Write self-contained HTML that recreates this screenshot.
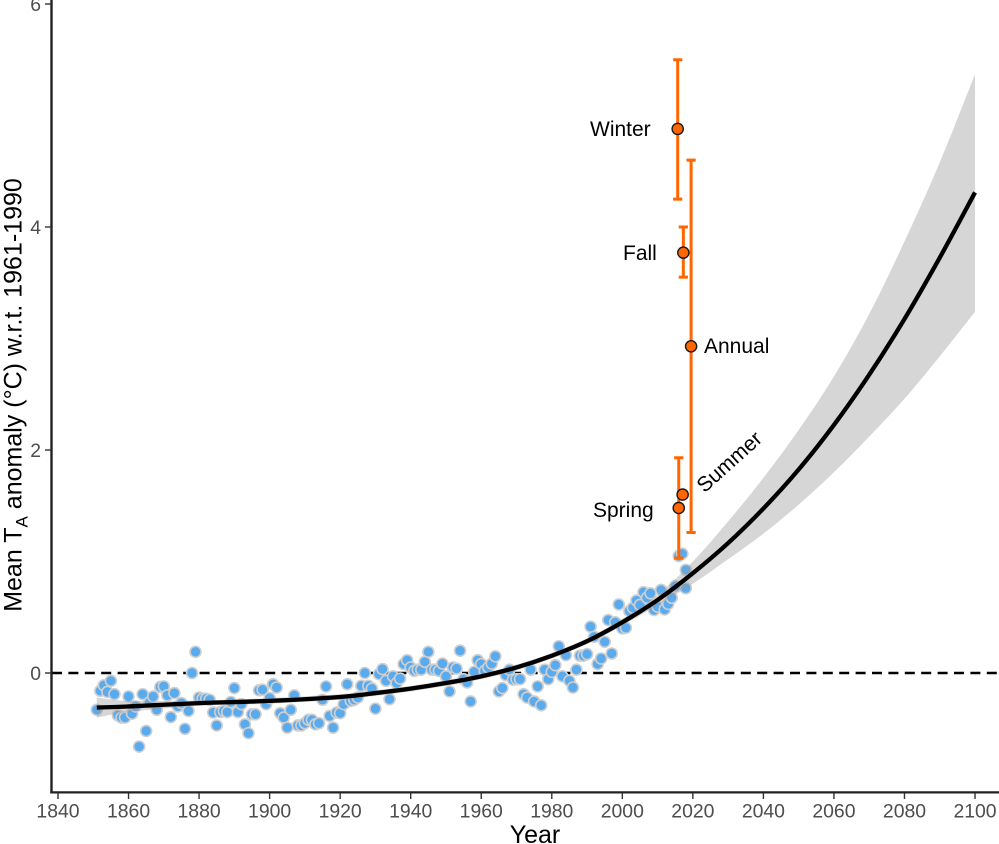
<!DOCTYPE html>
<html lang="en">
<head>
<meta charset="utf-8">
<title>Mean air temperature anomaly chart</title>
<style>
html,body{margin:0;padding:0;background:#fff;}
svg{display:block;font-family:"Liberation Sans",sans-serif;}
</style>
</head>
<body>
<svg id="chart" xmlns="http://www.w3.org/2000/svg" width="999" height="844" viewBox="0 0 999 844">
  <rect x="0" y="0" width="999" height="844" fill="#fff"/>
  <g id="plot"></g>
  <line x1="51.5" y1="0" x2="51.5" y2="793.5" stroke="#222" stroke-width="2.4"/>
  <line x1="50.3" y1="792.4" x2="999" y2="792.4" stroke="#222" stroke-width="2.2"/>
  <g id="axes"></g>
  <text x="535" y="843" text-anchor="middle" font-size="25" fill="#000">Year</text>
  <text transform="translate(21.5,395) rotate(-90)" text-anchor="middle" font-size="25" fill="#000">Mean T<tspan font-size="17" dy="6">A</tspan><tspan dy="-6"> anomaly (°C) w.r.t. 1961-1990</tspan></text>
  <text x="590" y="136" font-size="21" fill="#000">Winter</text>
  <text x="623" y="260" font-size="21" fill="#000">Fall</text>
  <text x="704" y="353" font-size="21" fill="#000">Annual</text>
  <text x="593" y="517" font-size="21" fill="#000">Spring</text>
  <text transform="translate(734,467) rotate(-42)" text-anchor="middle" font-size="21" fill="#000">Summer</text>
</svg>
<script>
const xTickLabels = [1840,1860,1880,1900,1920,1940,1960,1980,2000,2020,2040,2060,2080,2100];
const yTickLabels = [0,2,4,6];

const obsYears = [1851,1852,1853,1854,1855,1856,1857,1858,1859,1860,1861,1862,1863,1864,1865,1866,1867,1868,1869,1870,1871,1872,1873,1874,1875,1876,1877,1878,1879,1880,1881,1882,1883,1884,1885,1886,1887,1888,1889,1890,1891,1892,1893,1894,1895,1896,1897,1898,1899,1900,1901,1902,1903,1904,1905,1906,1907,1908,1909,1910,1911,1912,1913,1914,1915,1916,1917,1918,1919,1920,1921,1922,1923,1924,1925,1926,1927,1928,1929,1930,1931,1932,1933,1934,1935,1936,1937,1938,1939,1940,1941,1942,1943,1944,1945,1946,1947,1948,1949,1950,1951,1952,1953,1954,1955,1956,1957,1958,1959,1960,1961,1962,1963,1964,1965,1966,1967,1968,1969,1970,1971,1972,1973,1974,1975,1976,1977,1978,1979,1980,1981,1982,1983,1984,1985,1986,1987,1988,1989,1990,1991,1992,1993,1994,1995,1996,1997,1998,1999,2000,2001,2002,2003,2004,2005,2006,2007,2008,2009,2010,2011,2012,2013,2014,2015,2016,2017,2018,2018];
const obsAnomalies = [-0.33,-0.16,-0.11,-0.17,-0.07,-0.19,-0.38,-0.40,-0.40,-0.21,-0.365,-0.30,-0.66,-0.19,-0.52,-0.26,-0.21,-0.33,-0.125,-0.12,-0.20,-0.395,-0.18,-0.30,-0.27,-0.50,-0.34,0.0,0.19,-0.22,-0.23,-0.23,-0.24,-0.355,-0.47,-0.35,-0.34,-0.35,-0.26,-0.135,-0.35,-0.28,-0.46,-0.54,-0.37,-0.37,-0.155,-0.15,-0.28,-0.225,-0.10,-0.13,-0.36,-0.40,-0.49,-0.33,-0.20,-0.47,-0.47,-0.45,-0.42,-0.42,-0.46,-0.45,-0.24,-0.12,-0.385,-0.49,-0.355,-0.36,-0.28,-0.10,-0.25,-0.24,-0.22,-0.115,0.0,-0.115,-0.14,-0.32,-0.01,0.035,-0.07,-0.235,-0.03,-0.09,-0.05,0.08,0.115,0.05,0.02,0.03,0.03,0.10,0.19,0.03,0.03,0.02,0.085,-0.03,-0.165,0.05,0.04,0.20,-0.055,-0.085,-0.255,0.01,0.115,0.08,0.02,0.05,0.085,0.15,-0.165,-0.135,-0.02,0.03,-0.06,-0.055,-0.055,-0.19,-0.22,0.03,-0.255,-0.12,-0.29,0.03,-0.055,0.01,0.07,0.24,-0.03,0.16,-0.07,-0.13,0.03,0.155,0.155,0.17,0.415,0.325,0.08,0.13,0.28,0.475,0.175,0.455,0.615,0.40,0.405,0.555,0.585,0.65,0.61,0.725,0.675,0.715,0.565,0.595,0.745,0.57,0.62,0.675,0.78,1.05,1.07,0.925,0.76];

const curveYears = [1851,1860,1880,1900,1920,1930,1940,1950,1960,1970,1980,1990,2000,2010,2020,2030,2040,2050,2060,2070,2080,2090,2100];
const curveMean  = [-0.31,-0.30,-0.27,-0.25,-0.215,-0.18,-0.14,-0.09,-0.03,0.05,0.155,0.285,0.455,0.655,0.895,1.165,1.475,1.825,2.225,2.675,3.175,3.725,4.31];
const curveLower = [-0.40,-0.35,-0.295,-0.275,-0.24,-0.205,-0.165,-0.115,-0.055,0.025,0.13,0.26,0.425,0.61,0.80,1.02,1.25,1.51,1.80,2.12,2.46,2.84,3.24];
const curveUpper = [-0.22,-0.25,-0.245,-0.225,-0.19,-0.155,-0.115,-0.065,-0.005,0.075,0.18,0.31,0.485,0.70,1.00,1.36,1.75,2.18,2.66,3.22,3.87,4.58,5.37];

const seasonNames  = ['winter','fall','annual','spring','summer'];
const seasonYears  = [2015.7,2017.3,2019.5,2016.0,2017.1];
const seasonValues = [4.88,3.77,2.93,1.48,1.60];
const seasonLow    = [4.25,3.55,1.26,1.03,null];
const seasonHigh   = [5.50,4.00,4.60,1.93,null];

const NS = 'http://www.w3.org/2000/svg';
const plot = document.getElementById('plot');
const axes = document.getElementById('axes');

function xScale(year){ return 58 + (year - 1840) * 3.527; }
function yScale(value){ return 673 - value * 111.5; }

function make(tag, attrs, parent){
  const el = document.createElementNS(NS, tag);
  for (const k in attrs) el.setAttribute(k, attrs[k]);
  parent.appendChild(el);
  return el;
}

function splinePath(pts, move){
  let d = (move ? 'M' : 'L') + pts[0][0].toFixed(2) + ' ' + pts[0][1].toFixed(2);
  for (let i = 0; i < pts.length - 1; i++){
    const p0 = pts[Math.max(i - 1, 0)], p1 = pts[i], p2 = pts[i + 1], p3 = pts[Math.min(i + 2, pts.length - 1)];
    const c1x = p1[0] + (p2[0] - p0[0]) / 6, c1y = p1[1] + (p2[1] - p0[1]) / 6;
    const c2x = p2[0] - (p3[0] - p1[0]) / 6, c2y = p2[1] - (p3[1] - p1[1]) / 6;
    d += 'C' + c1x.toFixed(2) + ' ' + c1y.toFixed(2) + ' ' + c2x.toFixed(2) + ' ' + c2y.toFixed(2) + ' ' + p2[0].toFixed(2) + ' ' + p2[1].toFixed(2);
  }
  return d;
}

// ticks
xTickLabels.forEach(function(label){
  const x = xScale(label);
  const tick = make('line', {x1:x, x2:x, y1:793, y2:799, stroke:'#333', 'stroke-width':1.4}, axes);
  
  
  const text = make('text', {x:x, y:817.5, 'text-anchor':'middle', 'font-size':19.4, fill:'#4d4d4d'}, axes);
  text.textContent = label;
  
  
});
yTickLabels.forEach(function(label){
  const y = yScale(label);
  const tick = make('line', {x1:45, x2:51, y1:y, y2:y, stroke:'#333', 'stroke-width':1.4}, axes);
  
  
  const text = make('text', {x:41, y:y + 7, 'text-anchor':'end', 'font-size':19.4, fill:'#4d4d4d'}, axes);
  text.textContent = label;
  
  
});

// zero reference line
const zeroLine = make('line', {x1:52, x2:999, y1:yScale(0), y2:yScale(0), stroke:'#000', 'stroke-width':2.4, 'stroke-dasharray':'10 6.4'}, plot);



// observations
obsYears.forEach(function(year, i){
  const c = make('circle', {cx:xScale(year), cy:yScale(obsAnomalies[i]), r:5.5, fill:'#5aaaee', stroke:'#cfcfcf', 'stroke-width':1.6}, plot);
  
  
});

// confidence ribbon
const upperPts = curveYears.map(function(y, i){ return [xScale(y), yScale(curveUpper[i])]; });
const lowerPts = curveYears.map(function(y, i){ return [xScale(y), yScale(curveLower[i])]; }).reverse();
const ribbon = make('path', {d:splinePath(upperPts, true) + splinePath(lowerPts, false) + 'Z', fill:'#999', 'fill-opacity':0.4, stroke:'none'}, plot);



// fitted curve
const meanPts = curveYears.map(function(y, i){ return [xScale(y), yScale(curveMean[i])]; });
const curve = make('path', {d:splinePath(meanPts, true), fill:'none', stroke:'#000', 'stroke-width':4.3}, plot);



// seasonal error bars
seasonNames.forEach(function(name, i){
  if (seasonLow[i] === null) return;
  const x = xScale(seasonYears[i]);
  const yTop = yScale(seasonHigh[i]), yBot = yScale(seasonLow[i]);
  const bar = make('path', {d:'M' + (x - 4.6) + ' ' + yTop + 'H' + (x + 4.6) + 'M' + x + ' ' + yTop + 'V' + yBot + 'M' + (x - 4.6) + ' ' + yBot + 'H' + (x + 4.6), fill:'none', stroke:'#ff6600', 'stroke-width':3}, plot);
  
  
});
seasonNames.forEach(function(name, i){
  const p = make('circle', {cx:xScale(seasonYears[i]), cy:yScale(seasonValues[i]), r:5.6, fill:'#ff6600', stroke:'#1a1a1a', 'stroke-width':1.4}, plot);
  
  
});
</script>
</body>
</html>
